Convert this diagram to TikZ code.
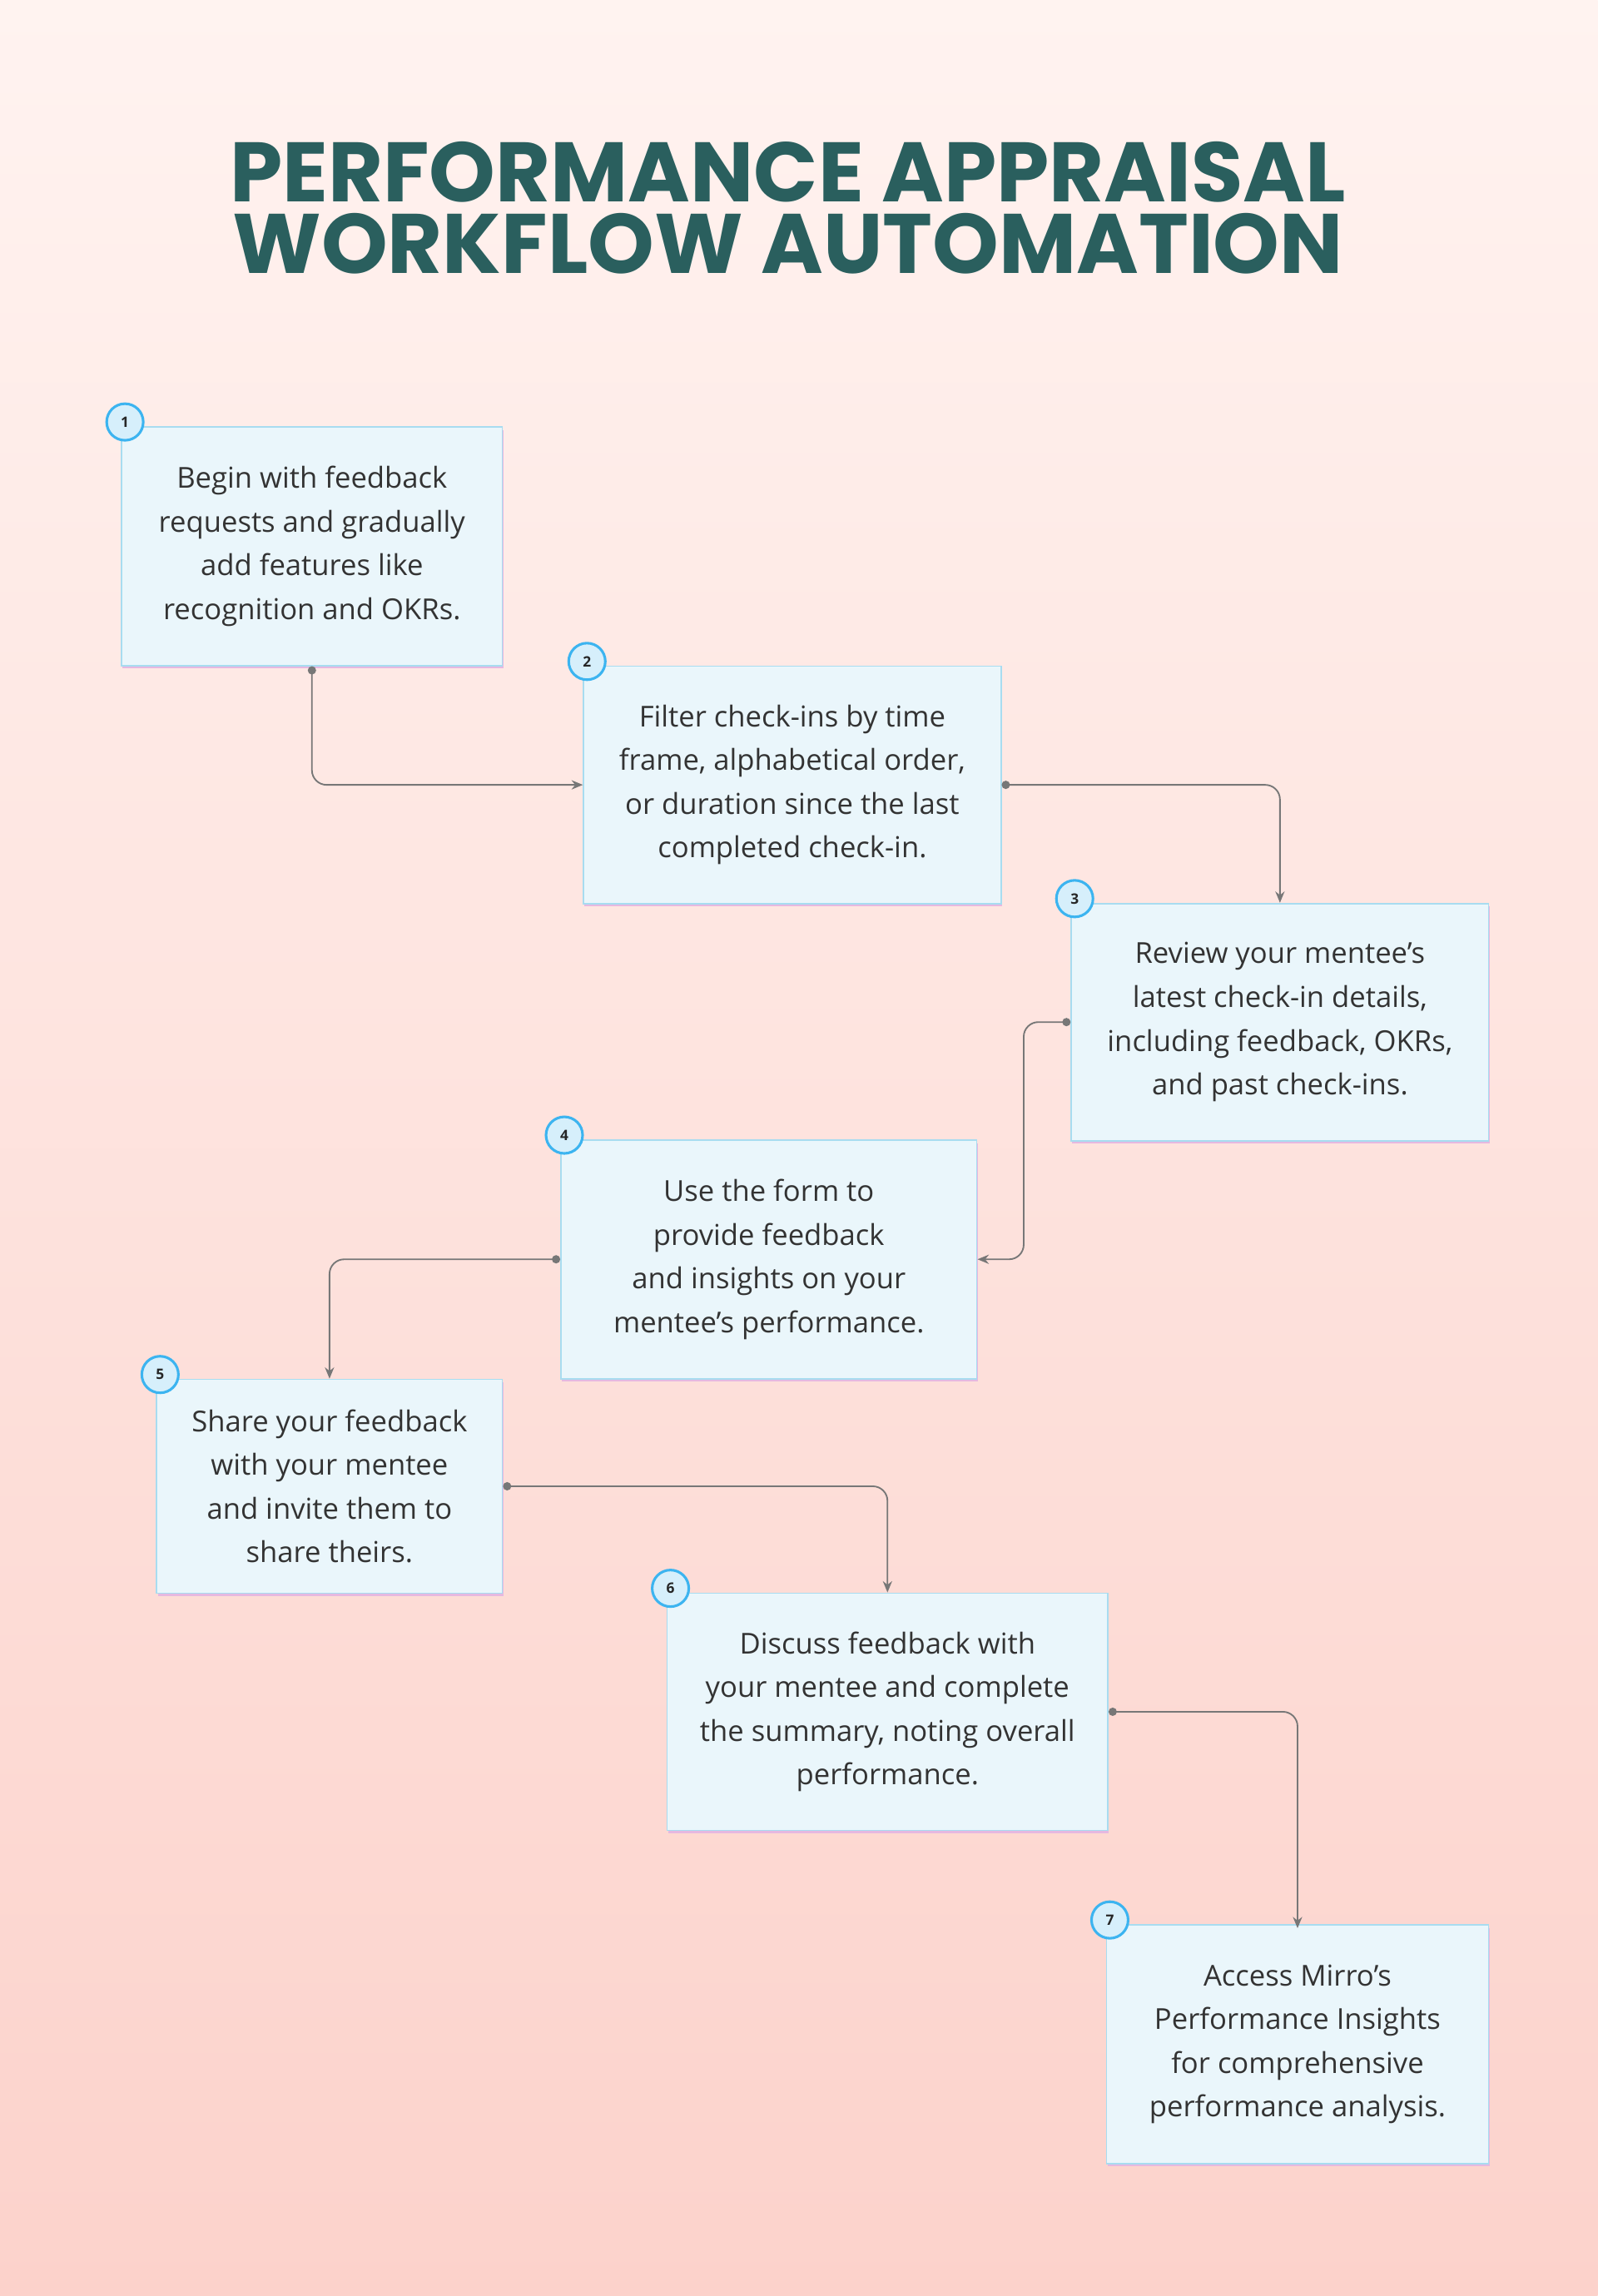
\documentclass[tikz,border=0pt]{standalone}
\usepackage{fontspec}
\setmainfont{Open Sans}
\newfontfamily\titlefont{Poppins}
\usetikzlibrary{arrows.meta,positioning,shadows}
\definecolor{bgtop}{HTML}{FFF3F0}
\definecolor{bgbot}{HTML}{FCD2CB}
\definecolor{titlecol}{HTML}{2A5F5E}
\definecolor{boxfill}{HTML}{EAF6FB}
\definecolor{boxline}{HTML}{A8DCF0}
\definecolor{boxshade}{HTML}{E6B8E0}
\definecolor{badgeline}{HTML}{3CB4F0}
\definecolor{badgefill}{HTML}{D6EFFB}
\definecolor{linkcol}{HTML}{777777}
\begin{document}
\begin{tikzpicture}[x=0.05cm,y=-0.05cm,
    stepbox/.style={rectangle, draw=boxline, line width=1.4pt, fill=boxfill, align=center,
        inner sep=0pt, font=\fontsize{28}{42.5}\selectfont, text=black!80,
        drop shadow={shadow xshift=1pt, shadow yshift=-3pt, fill=boxshade, opacity=1}},
    badge/.style={circle, draw=badgeline, line width=2.5pt, fill=badgefill, minimum size=1.25cm,
        inner sep=0pt, font=\fontsize{14}{14}\selectfont\bfseries, text=black!85},
    link/.style={draw=linkcol, line width=1.5pt, rounded corners=0.5cm, {Circle[length=8pt]}-{Stealth[length=11pt,width=9pt]}}
]
\shade[top color=bgtop, bottom color=bgbot] (0,0) rectangle (1091,1568);
\useasboundingbox (0,0) rectangle (1091,1568);

\node[font=\titlefont\fontsize{82}{70}\selectfont\bfseries, text=titlecol, align=center] (title) at (538,142)
    {PERFORMANCE APPRAISAL\\WORKFLOW AUTOMATION};

\node[stepbox, minimum width=13cm, minimum height=8.15cm] (s1) at (213,373)
    {Begin with feedback\\requests and gradually\\add features like\\recognition and OKRs.};
\node[stepbox, minimum width=14.25cm, minimum height=8.1cm] (s2) at (541,536)
    {Filter check-ins by time\\frame, alphabetical order,\\or duration since the last\\completed check-in.};
\node[stepbox, minimum width=14.25cm, minimum height=8.1cm] (s3) at (874,698)
    {Review your mentee’s\\latest check-in details,\\including feedback, OKRs,\\and past check-ins.};
\node[stepbox, minimum width=14.2cm, minimum height=8.15cm] (s4) at (525,860)
    {Use the form to\\provide feedback\\and insights on your\\mentee’s performance.};
\node[stepbox, minimum width=11.8cm, minimum height=7.3cm] (s5) at (225,1015)
    {Share your feedback\\with your mentee\\and invite them to\\share theirs.};
\node[stepbox, minimum width=15.05cm, minimum height=8.1cm] (s6) at (606,1169)
    {Discuss feedback with\\your mentee and complete\\the summary, noting overall\\performance.};
\node[stepbox, minimum width=13.05cm, minimum height=8.15cm] (s7) at (886,1396)
    {Access Mirro's\\Performance Insights\\for comprehensive\\performance analysis.};

% step numbers
\foreach \n in {1,...,7}
    \node[badge] (b\n) at ([xshift=4, yshift=4]s\n.north west) {\n};

% connectors
\draw[link] (s1.south) |- (s2.west);
\draw[link] (s2.east) -| (s3.north);
\draw[link] (s3.west) -- ++(-32,0) |- (s4.east);
\draw[link] (s4.west) -| (s5.north);
\draw[link] (s5.east) -| (s6.north);
\draw[link] (s6.east) -| ([yshift=-4]s7.north);
\end{tikzpicture}
\end{document}
